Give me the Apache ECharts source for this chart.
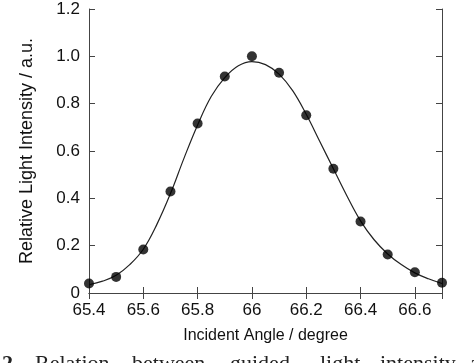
<!DOCTYPE html>
<html>
<head>
<meta charset="utf-8">
<script src="https://cdn.jsdelivr.net/npm/echarts@6/dist/echarts.min.js"></script>
<style>html,body{margin:0;padding:0;background:#fff}#c{width:474px;height:363px}</style>
</head>
<body>
<div id="c"></div>
<script>
// Measured points
const angleData = [65.4, 65.5, 65.6, 65.7, 65.8, 65.9, 66.0, 66.1, 66.2, 66.3, 66.4, 66.5, 66.6, 66.7];
const intensityData = [0.04, 0.068, 0.184, 0.429, 0.716, 0.915, 1.0, 0.931, 0.751, 0.525, 0.302, 0.163, 0.088, 0.043];
// Fitted curve
const fitAngles = [65.4, 65.45, 65.5, 65.55, 65.6, 65.65, 65.7, 65.75, 65.8, 65.85, 65.9, 65.95, 66.0, 66.05, 66.1, 66.15, 66.2, 66.25, 66.3, 66.35, 66.4, 66.45, 66.5, 66.55, 66.6, 66.65, 66.7];
const fitValues = [0.035, 0.05, 0.075, 0.12, 0.185, 0.29, 0.42, 0.57, 0.71, 0.83, 0.91, 0.96, 0.978, 0.965, 0.925, 0.855, 0.755, 0.64, 0.525, 0.41, 0.305, 0.225, 0.165, 0.12, 0.085, 0.06, 0.04];
const xTitle = 'Incident Angle / degree';
const yTitle = 'Relative Light Intensity / a.u.';
const captionBold = '2';
const captionWords = ['Relation', 'between', 'guided', 'light', 'intensity', 'a'];

const sans = 'Liberation Sans, Arial, sans-serif';
const serif = 'Liberation Serif, Times New Roman, serif';
const axisColor = '#444';

const fmtX = v => { const r = Math.round(v * 10) / 10; return String(r); };
const fmtY = v => { const r = Math.round(v * 10) / 10; return r === 0 ? '0' : r.toFixed(1); };

const chart = echarts.init(document.getElementById('c'), null, {renderer: 'canvas'});
const wordX = [35, 132, 230, 320, 380, 470];
const graphics = [{type: 'text', x: 2, y: 364, style: {text: captionBold, font: 'bold 22px ' + serif, fill: '#222', verticalAlign: 'middle', align: 'left'}}];
captionWords.forEach((w, i) => {
  graphics.push({type: 'text', x: wordX[i], y: 364, style: {text: w, font: '22px ' + serif, fill: '#222', verticalAlign: 'middle', align: 'left'}});
});

chart.setOption({
  animation: false,
  backgroundColor: '#fff',
  grid: {left: 89, right: 32, top: 9, bottom: 70, containLabel: false},
  xAxis: [{
    type: 'value', min: 65.4, max: 66.7, interval: 0.2, position: 'bottom',
    name: xTitle, nameLocation: 'middle', nameGap: 35,
    nameTextStyle: {fontFamily: sans, fontSize: 16, color: '#111'},
    axisLine: {show: true, lineStyle: {color: axisColor, width: 1}},
    axisTick: {show: true, inside: true, length: 6, lineStyle: {color: axisColor}},
    axisLabel: {formatter: fmtX, fontFamily: sans, fontSize: 17, color: '#111', margin: 9, showMaxLabel: false},
    splitLine: {show: false}
  }, {
    type: 'value', min: 65.4, max: 66.7, interval: 0.2, position: 'top',
    axisLine: {show: true, lineStyle: {color: axisColor, width: 1}},
    axisTick: {show: true, inside: true, length: 6, lineStyle: {color: axisColor}},
    axisLabel: {show: false}, splitLine: {show: false}
  }],
  yAxis: [{
    type: 'value', min: 0, max: 1.2, interval: 0.2, position: 'left',
    name: yTitle, nameLocation: 'middle', nameGap: 53,
    nameTextStyle: {fontFamily: sans, fontSize: 18, color: '#111'},
    axisLine: {show: true, lineStyle: {color: axisColor, width: 1}},
    axisTick: {show: true, inside: true, length: 6, lineStyle: {color: axisColor}},
    axisLabel: {formatter: fmtY, fontFamily: sans, fontSize: 17, color: '#111', margin: 9},
    splitLine: {show: false}
  }, {
    type: 'value', min: 0, max: 1.2, interval: 0.2, position: 'right',
    axisLine: {show: true, lineStyle: {color: axisColor, width: 1}},
    axisTick: {show: true, inside: true, length: 6, lineStyle: {color: axisColor}},
    axisLabel: {show: false}, splitLine: {show: false}
  }],
  series: [{
    type: 'line', name: 'fit', xAxisIndex: 0, yAxisIndex: 0,
    data: fitAngles.map((x, i) => [x, fitValues[i]]),
    smooth: 0.4, showSymbol: false, symbol: 'none',
    lineStyle: {color: '#222', width: 1.2}, z: 2
  }, {
    type: 'scatter', name: 'measured', xAxisIndex: 0, yAxisIndex: 0,
    data: angleData.map((x, i) => [x, intensityData[i]]),
    symbol: 'circle', symbolSize: 10,
    itemStyle: {color: '#000'}, z: 3
  }],
  graphic: graphics
});
</script>
</body>
</html>
